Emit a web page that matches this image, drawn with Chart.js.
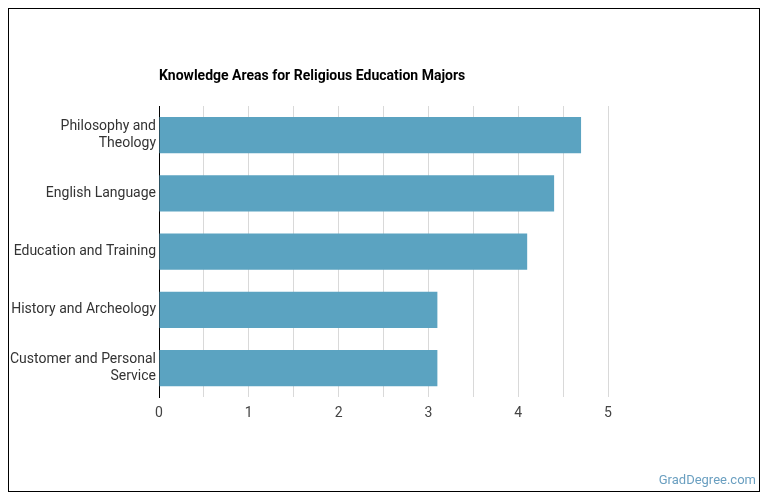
<!DOCTYPE html>
<html>
<head>
<meta charset="utf-8">
<script src="https://cdn.jsdelivr.net/npm/chart.js@4"></script>
<style>
  body { margin: 0; background: #fff; }
  #wrap { position: relative; width: 770px; height: 503px; }
  #frame { position: absolute; left: 8px; top: 8px; width: 752px; height: 484px; border: 1px solid #000; box-sizing: border-box; pointer-events: none; }
  #mark { position: absolute; right: 14px; top: 472px; font: 13px Roboto, sans-serif; color: #6a9fc0; }
</style>
</head>
<body>
<div id="wrap">
  <canvas id="knowledgeChart" width="770" height="503"></canvas>
  <div id="frame"></div>
  <div id="mark">GradDegree.com</div>
</div>
<script>
const titleText = 'Knowledge Areas for Religious Education Majors';
const areas = [
    ['Philosophy and', 'Theology'],
    'English Language',
    'Education and Training',
    'History and Archeology',
    ['Customer and Personal', 'Service']
];
const scores = [4.7, 4.4, 4.1, 3.1, 3.1];
const tickValues = [0, 1, 2, 3, 4, 5];

const titlePlugin = {
    id: 'leftTitle',
    afterDraw(chart) {
        const ctx = chart.ctx;
        ctx.save();
        ctx.font = 'bold 14px Roboto, sans-serif';
        ctx.fillStyle = '#000';
        ctx.textBaseline = 'middle';
        ctx.fillText(titleText, chart.chartArea.left, 76);
        ctx.restore();
    }
};

const ctx = document.getElementById('knowledgeChart').getContext('2d');
new Chart(ctx, {
    type: 'bar',
    data: {
        labels: areas,
        datasets: [{
            data: scores,
            backgroundColor: '#5ba3c1',
            barPercentage: 0.62,
            categoryPercentage: 1
        }]
    },
    options: {
        indexAxis: 'y',
        responsive: false,
        animation: false,
        layout: { padding: { top: 106, right: 162, bottom: 73, left: 0 } },
        plugins: { legend: { display: false }, tooltip: { enabled: false } },
        scales: {
            x: {
                min: 0,
                max: 5,
                border: { display: false },
                grid: { color: '#d9d9d9', drawTicks: false },
                ticks: {
                    stepSize: 0.5,
                    padding: 8,
                    color: '#444',
                    font: { family: 'Roboto', size: 14 },
                    callback: v => tickValues.includes(v) ? v : ''
                }
            },
            y: {
                border: { display: true, color: '#000' },
                grid: { display: false, drawTicks: false },
                ticks: {
                    padding: 3,
                    color: '#333',
                    font: { family: 'Roboto', size: 14 }
                },
                afterFit(scale) { scale.width = 159; }
            }
        }
    },
    plugins: [titlePlugin]
});
</script>
</body>
</html>
